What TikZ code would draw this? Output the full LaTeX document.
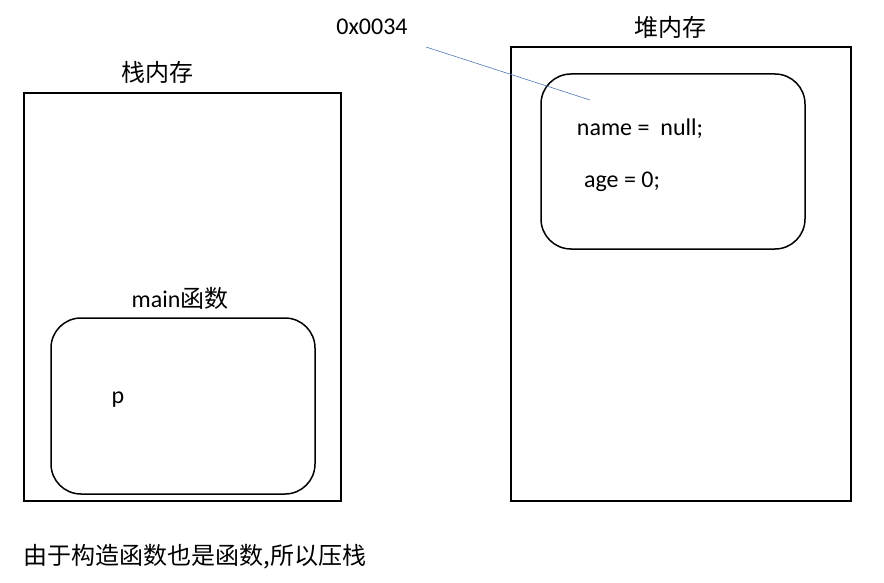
\documentclass[tikz,border=0pt]{standalone}
\usepackage{fontspec}
\setmainfont{Carlito}
\newfontfamily\cjk{Noto Sans CJK SC}
\begin{document}
\begin{tikzpicture}[x=1pt,y=-1pt,
  box/.style={draw,line width=1.5pt},
  rbox/.style={draw,line width=1.5pt,rounded corners=30pt},
  lbl/.style={font=\fontsize{24}{28}\selectfont,inner sep=0pt}]
\useasboundingbox (0,0) rectangle (884,583);
\draw[box] (24,93) rectangle (341,501);
\draw[rbox] (51,318) rectangle (315,494);
\draw[box] (511,47) rectangle (851,501);
\draw[rbox] (541,74) rectangle (805,249);
\node[lbl] (s) at (157,72) {\cjk 栈内存};
\node[lbl] (m) at (180,298) {main\cjk 函数};
\node[lbl] (p) at (118,400) {p};
\node[lbl] (h) at (670,27) {\cjk 堆内存};
\node[lbl] (n) at (640,129) {name =\ \ null;};
\node[lbl] (a) at (622,182) {age = 0;};
\node[lbl] (x) at (372,27) {0x0034};
\coordinate (l1) at (426,47);
\coordinate (l2) at (590,100);
\draw[color={rgb,255:red,80;green,120;blue,180},line width=0.6pt] (l1) -- (l2);
\node[lbl] (b) at (195,557) {\cjk 由于构造函数也是函数,所以压栈};
\end{tikzpicture}
\end{document}
